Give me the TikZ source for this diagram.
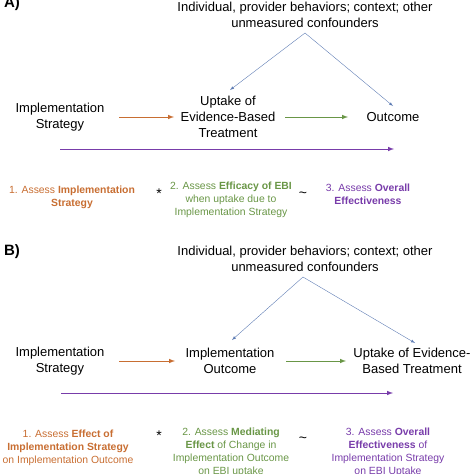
\documentclass[tikz,border=0pt]{standalone}
\usepackage{fontspec}
\setmainfont{Liberation Sans}
\definecolor{orng}{RGB}{200,110,50}
\definecolor{grn}{RGB}{105,150,70}
\definecolor{prpl}{RGB}{120,60,170}
\definecolor{blu}{RGB}{95,125,180}
\begin{document}
\begin{tikzpicture}[x=1pt,y=-1pt,>=latex]
            \useasboundingbox (0,0) rectangle (474,474);
            \tikzset{txt/.style={align=center, font=\fontsize{13}{16}\selectfont, inner sep=0pt},
                     step1/.style={align=center, font=\fontsize{10.4}{13}\selectfont, inner sep=0pt, text=orng},
                     step2/.style={step1, text=grn},
                     step3/.style={step1, text=prpl},
                     sym/.style={font=\fontsize{14}{14}\selectfont, inner sep=0pt},
                     lbl/.style={font=\bfseries\fontsize{15}{15}\selectfont, inner sep=0pt}}

            % panel A
            \node[lbl] (A) at (12,4) {A)};
            \begin{scope}[every node/.style={txt}]

                \node (c1) at (305,15) {Individual, provider behaviors; context; other\\unmeasured confounders};
                \node (is1) at (60,117) {Implementation\\Strategy};
                \node (eb1) at (228,117) {Uptake of\\Evidence-Based\\Treatment};
                \node (oc1) at (393,117) {Outcome};

            \end{scope}
            \coordinate (ap1) at (305,33);
            \coordinate (ebt1) at (230,90);
            \coordinate (oct1) at (393,106);
            \coordinate (oa1) at (119,117);
            \coordinate (ob1) at (174,117);
            \coordinate (ga1) at (285,117);
            \coordinate (gb1) at (348,117);
            \coordinate (pl1) at (60,149);
            \coordinate (pr1) at (394,149);
            \path[->, blu] (ap1) edge (ebt1) edge (oct1);
            \draw[->, orng, line width=1pt] (oa1) -- (ob1);
            \draw[->, grn, line width=1pt] (ga1) -- (gb1);
            \draw[->, prpl, line width=1pt] (pl1) -- (pr1);

            \node[step1] (s1a) at (72,197) {1. Assess \textbf{Implementation}\\\textbf{Strategy}};
            \node[sym] (m1) at (159,194) {*};
            \node[step2] (s2a) at (231,200) {2. Assess \textbf{Efficacy of EBI}\\when uptake due to\\Implementation Strategy};
            \node[sym] (t1) at (303,195) {\~{}};
            \node[step3] (s3a) at (368,194) {3. Assess \textbf{Overall}\\\textbf{Effectiveness}};

            % panel B
            \node[lbl] (B) at (12,252) {B)};
            \begin{scope}[every node/.style={txt}]

                \node (c2) at (305,259) {Individual, provider behaviors; context; other\\unmeasured confounders};
                \node (is2) at (60,361) {Implementation\\Strategy};
                \node (io2) at (230,361) {Implementation\\Outcome};
                \node (eb2) at (412,361) {Uptake of Evidence-\\Based Treatment};

            \end{scope}
            \coordinate (ap2) at (303,277);
            \coordinate (iot2) at (232,340);
            \coordinate (ebt2) at (415,343);
            \coordinate (oa2) at (119,361);
            \coordinate (ob2) at (175,361);
            \coordinate (ga2) at (286,361);
            \coordinate (gb2) at (346,361);
            \coordinate (pl2) at (61,393);
            \coordinate (pr2) at (393,393);
            \path[->, blu] (ap2) edge (iot2) edge (ebt2);
            \draw[->, orng, line width=1pt] (oa2) -- (ob2);
            \draw[->, grn, line width=1pt] (ga2) -- (gb2);
            \draw[->, prpl, line width=1pt] (pl2) -- (pr2);

            \node[step1] (s1b) at (68,448) {1. Assess \textbf{Effect of}\\\textbf{Implementation Strategy}\\on Implementation Outcome};
            \node[sym] (m2) at (159,436) {*};
            \node[step2] (s2b) at (231,452) {2. Assess \textbf{Mediating}\\\textbf{Effect} of Change in\\Implementation Outcome\\on EBI uptake};
            \node[sym] (t2) at (303,440) {\~{}};
            \node[step3] (s3b) at (388,452) {3. Assess \textbf{Overall}\\\textbf{Effectiveness} of\\Implementation Strategy\\on EBI Uptake};
        \end{tikzpicture}
\end{document}
